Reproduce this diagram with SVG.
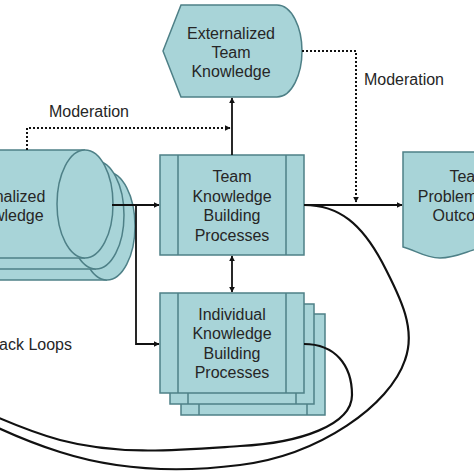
<svg xmlns="http://www.w3.org/2000/svg" width="474" height="474" viewBox="0 0 474 474">
<defs>
<style>
.shape{fill:#a8d4d8;stroke:#4e8087;stroke-width:1.5}
.fillonly{fill:#a8d4d8;stroke:none}
.edge{fill:none;stroke:#4e8087;stroke-width:1.5}
.lbl{font-family:"Liberation Sans",Arial,sans-serif;font-size:16px;fill:#262626;text-anchor:middle}
.conn{fill:none;stroke:#111;stroke-width:1.8}
.dot{fill:none;stroke:#111;stroke-width:2;stroke-dasharray:2 2}
.loop{fill:none;stroke:#111;stroke-width:2.2}
</style>
<marker id="ah" viewBox="0 0 10 10" refX="9" refY="5" markerWidth="6" markerHeight="6" orient="auto-start-reverse" markerUnits="userSpaceOnUse">
<path d="M0,0 L10,5 L0,10 Z" fill="#111"/>
</marker>
</defs>
<rect width="474" height="474" fill="#fff"/>

<g id="internalized-knowledge">
<path class="fillonly" d="M-5,172 H107 V280 H-5 Z"/>
<path class="edge" d="M-5,280 H107"/>
<ellipse class="shape" cx="107" cy="226" rx="28" ry="54"/>
<path class="fillonly" d="M-5,161 H96 V269 H-5 Z"/>
<path class="edge" d="M-5,269 H96"/>
<ellipse class="shape" cx="96" cy="215" rx="28" ry="54"/>
<path class="fillonly" d="M-5,150 H85 V258 H-5 Z"/>
<path class="edge" d="M-5,150 H85 M-5,258 H85"/>
<ellipse class="shape" cx="85" cy="204" rx="28" ry="54"/>
<text class="lbl" x="4" y="202">Internalized</text>
<text class="lbl" x="4" y="221">Knowledge</text>
</g>

<g id="externalized-team-knowledge">
<path class="shape" d="M163,51 L181,5 H277 C292,5 302,28 302,51 C302,74 292,97 277,97 H181 Z"/>
<text class="lbl" x="231" y="39">Externalized</text>
<text class="lbl" x="231" y="58">Team</text>
<text class="lbl" x="231" y="77">Knowledge</text>
</g>

<g id="team-knowledge-building">
<rect class="shape" x="160" y="155" width="144" height="100"/>
<path class="edge" d="M178,155 V255 M286,155 V255"/>
<text class="lbl" x="232" y="182">Team</text>
<text class="lbl" x="232" y="202">Knowledge</text>
<text class="lbl" x="232" y="221">Building</text>
<text class="lbl" x="232" y="241">Processes</text>
</g>

<g id="individual-knowledge-building">
<rect class="shape" x="181" y="314" width="144" height="101"/>
<path class="edge" d="M199,314 V415 M307,314 V415"/>
<rect class="shape" x="170" y="304" width="144" height="100"/>
<path class="edge" d="M188,304 V404 M296,304 V404"/>
<rect class="shape" x="160" y="293" width="144" height="100"/>
<path class="edge" d="M178,293 V393 M286,293 V393"/>
<text class="lbl" x="232" y="320">Individual</text>
<text class="lbl" x="232" y="339">Knowledge</text>
<text class="lbl" x="232" y="359">Building</text>
<text class="lbl" x="232" y="378">Processes</text>
</g>

<g id="team-problem-solving-outcomes">
<path class="shape" d="M403,152 H480 V248 C465,252 455,258 440,258 C425,258 415,250 403,247 Z"/>
<text class="lbl" x="469" y="182">Team</text>
<text class="lbl" x="476" y="202">Problem Solving</text>
<text class="lbl" x="469" y="221">Outcomes</text>
</g>

<g id="labels">
<text class="lbl" x="89" y="117">Moderation</text>
<text class="lbl" x="404" y="85">Moderation</text>
<text class="lbl" x="72" y="350" style="text-anchor:end">Feedback Loops</text>
</g>

<g id="connectors">
<path class="conn" d="M112,205 H159" marker-end="url(#ah)"/>
<path class="conn" d="M136,205 V344 H159" marker-end="url(#ah)"/>
<path class="conn" d="M232,155 V98" marker-end="url(#ah)"/>
<path class="conn" d="M232,256 V292" marker-start="url(#ah)" marker-end="url(#ah)"/>
<path class="conn" d="M304,205 H402" marker-end="url(#ah)"/>
<path class="dot" d="M27,150 V128 H230" marker-end="url(#ah)"/>
<path class="dot" d="M302,51 H356 V202" marker-end="url(#ah)"/>
<path class="loop" d="M304,344 C335,344 352,365 352,395 C352,425 300,443 240,446 C180,450 120,456 60,440 C35,433 15,425 -10,414"/>
<path class="loop" d="M304,205 C340,205 362,225 382,262 C402,300 416,330 405,360 C390,405 320,455 240,465 C170,474 110,468 60,452 C35,444 15,436 -10,424"/>
</g>
</svg>
